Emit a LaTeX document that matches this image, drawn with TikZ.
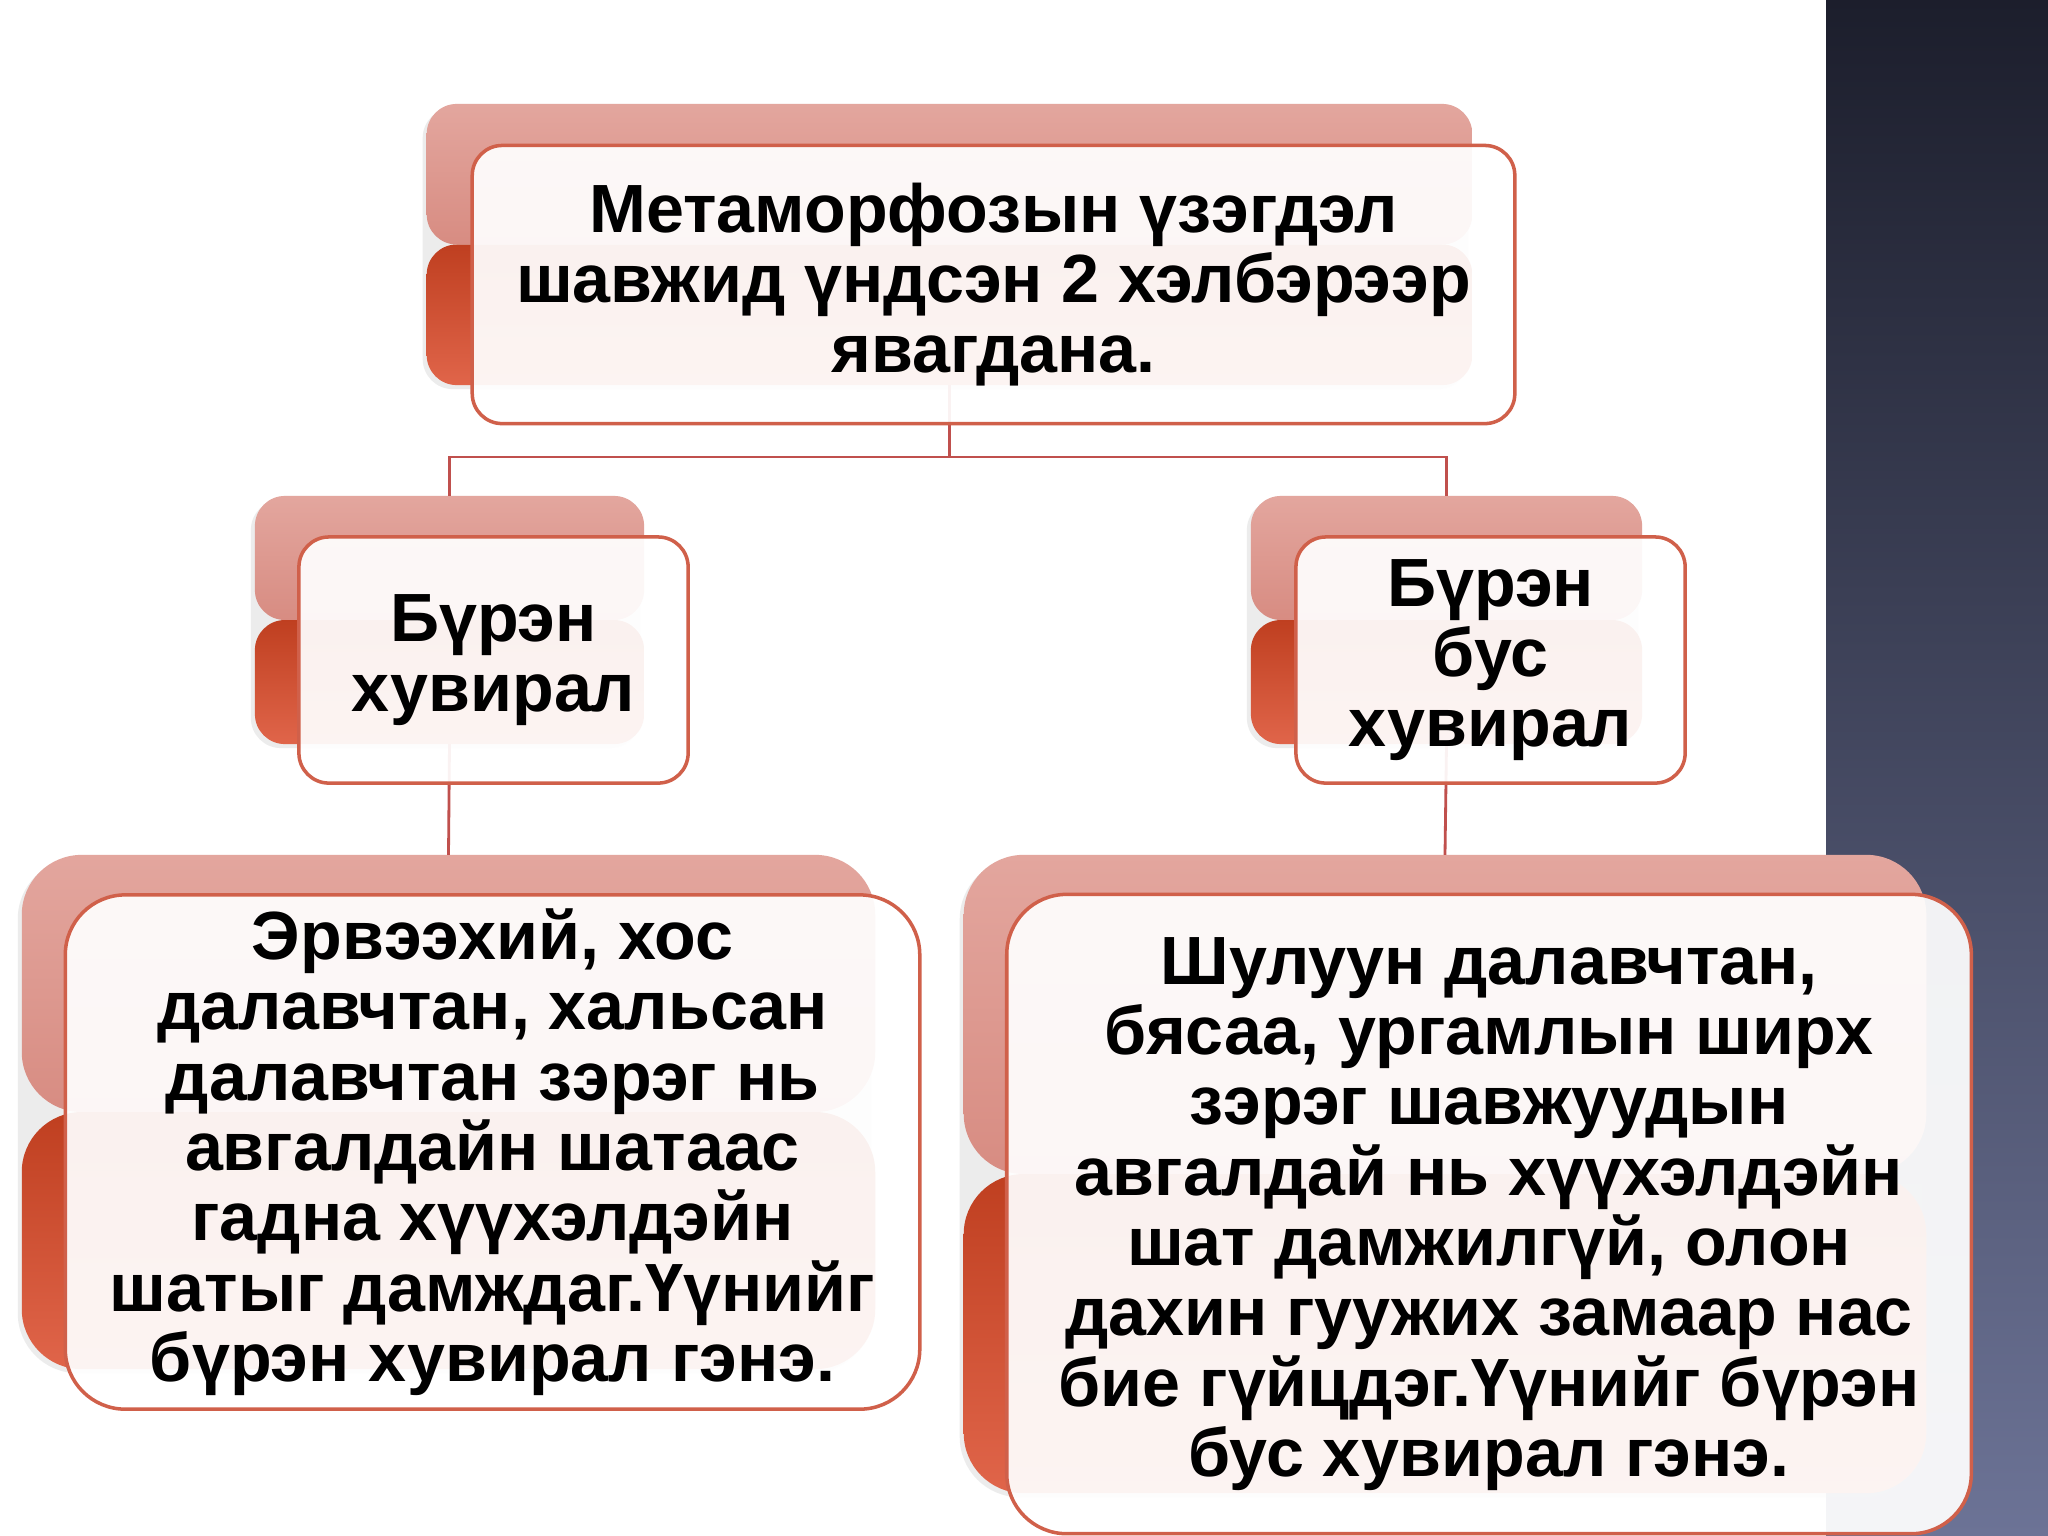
\documentclass[tikz,border=0pt]{standalone}
\usepackage{fontspec}
\setmainfont{Liberation Sans}
\usetikzlibrary{positioning,shadows}
\definecolor{backtop}{HTML}{E3A69E}
\definecolor{backmid}{HTML}{CC7266}
\definecolor{backlow}{HTML}{BF3F20}
\definecolor{backbot}{HTML}{E0654A}
\definecolor{edgered}{HTML}{D0604A}
\definecolor{linkred}{HTML}{C0504D}
\definecolor{paneltop}{HTML}{1C1E2C}
\definecolor{panelbot}{HTML}{6C7396}

\begin{document}
\begin{tikzpicture}[x=0.01cm, y=-0.01cm, every node/.style={font=\fontsize{19.4}{20}\selectfont\bfseries}]
  \tikzset{backbox/.style={rounded corners=3mm, inner sep=0pt, outer sep=0pt,
      drop shadow={opacity=0.15, shadow xshift=-0.4mm, shadow yshift=-0.4mm},
      path picture={
        \shade[top color=backtop, bottom color=backmid] (path picture bounding box.north west) rectangle (path picture bounding box.east);
        \shade[top color=backlow, bottom color=backbot] (path picture bounding box.west) rectangle (path picture bounding box.south east);}},
    frontbox/.style={rounded corners=3mm, draw=edgered, line width=1pt, fill=white, fill opacity=0.93, text opacity=1,
      inner sep=0pt, outer sep=0pt, align=center, xshift=4.4mm, yshift=-4mm},
    link/.style={draw=linkred, line width=0.8pt}}
  % slide background
  \useasboundingbox (0,0) rectangle (2048,1536);
  \fill[white] (0,0) rectangle (2048,1536);
  \shade[top color=paneltop, bottom color=panelbot] (1826,0) rectangle (2048,1536);
  % back shapes
  \node[backbox, minimum width=10.45cm, minimum height=2.81cm] (topback) at (949.5,244.5) {};
  \node[backbox, minimum width=3.89cm, minimum height=2.48cm] (leftback) at (449.5,620) {};
  \node[backbox, minimum width=3.91cm, minimum height=2.48cm] (rightback) at (1446.5,620) {};
  \node[backbox, rounded corners=6mm, minimum width=8.53cm, minimum height=5.14cm] (leftnote) at (448.5,1112) {};
  \node[backbox, rounded corners=6mm, minimum width=9.62cm, minimum height=6.38cm] (rightnote) at (1445,1174) {};
  % connectors
  \draw[link] (topback.south) -- ++(0,72) coordinate (fork) -| (leftback.north);
  \draw[link] (fork) -| (rightback.north);
  \draw[link] (leftback.south) -- (leftnote.north);
  \draw[link] (rightback.south) -- (rightnote.north);
  % front boxes
  \node[frontbox, minimum width=10.42cm, minimum height=2.78cm] (topbox) at (topback) {Метаморфозын үзэгдэл\\шавжид үндсэн 2 хэлбэрээр\\явагдана.};
  \node[frontbox, minimum width=3.89cm, minimum height=2.46cm] (leftbox) at (leftback) {Бүрэн\\хувирал};
  \node[frontbox, minimum width=3.89cm, minimum height=2.46cm] (rightbox) at (rightback) {Бүрэн\\бус\\хувирал};
  \node[frontbox, rounded corners=6mm, minimum width=8.54cm, minimum height=5.14cm] (lefttext) at (leftnote) {Эрвээхий, хос\\далавчтан, хальсан\\далавчтан зэрэг нь\\авгалдайн шатаас\\гадна хүүхэлдэйн\\шатыг дамждаг.Үүнийг\\бүрэн хувирал гэнэ.};
  \node[frontbox, rounded corners=6mm, minimum width=9.64cm, minimum height=6.39cm] (righttext) at (rightnote) {Шулуун далавчтан,\\бясаа, ургамлын ширх\\зэрэг шавжуудын\\авгалдай нь хүүхэлдэйн\\шат дамжилгүй, олон\\дахин гуужих замаар нас\\бие гүйцдэг.Үүнийг бүрэн\\бус хувирал гэнэ.};
\end{tikzpicture}
\end{document}
